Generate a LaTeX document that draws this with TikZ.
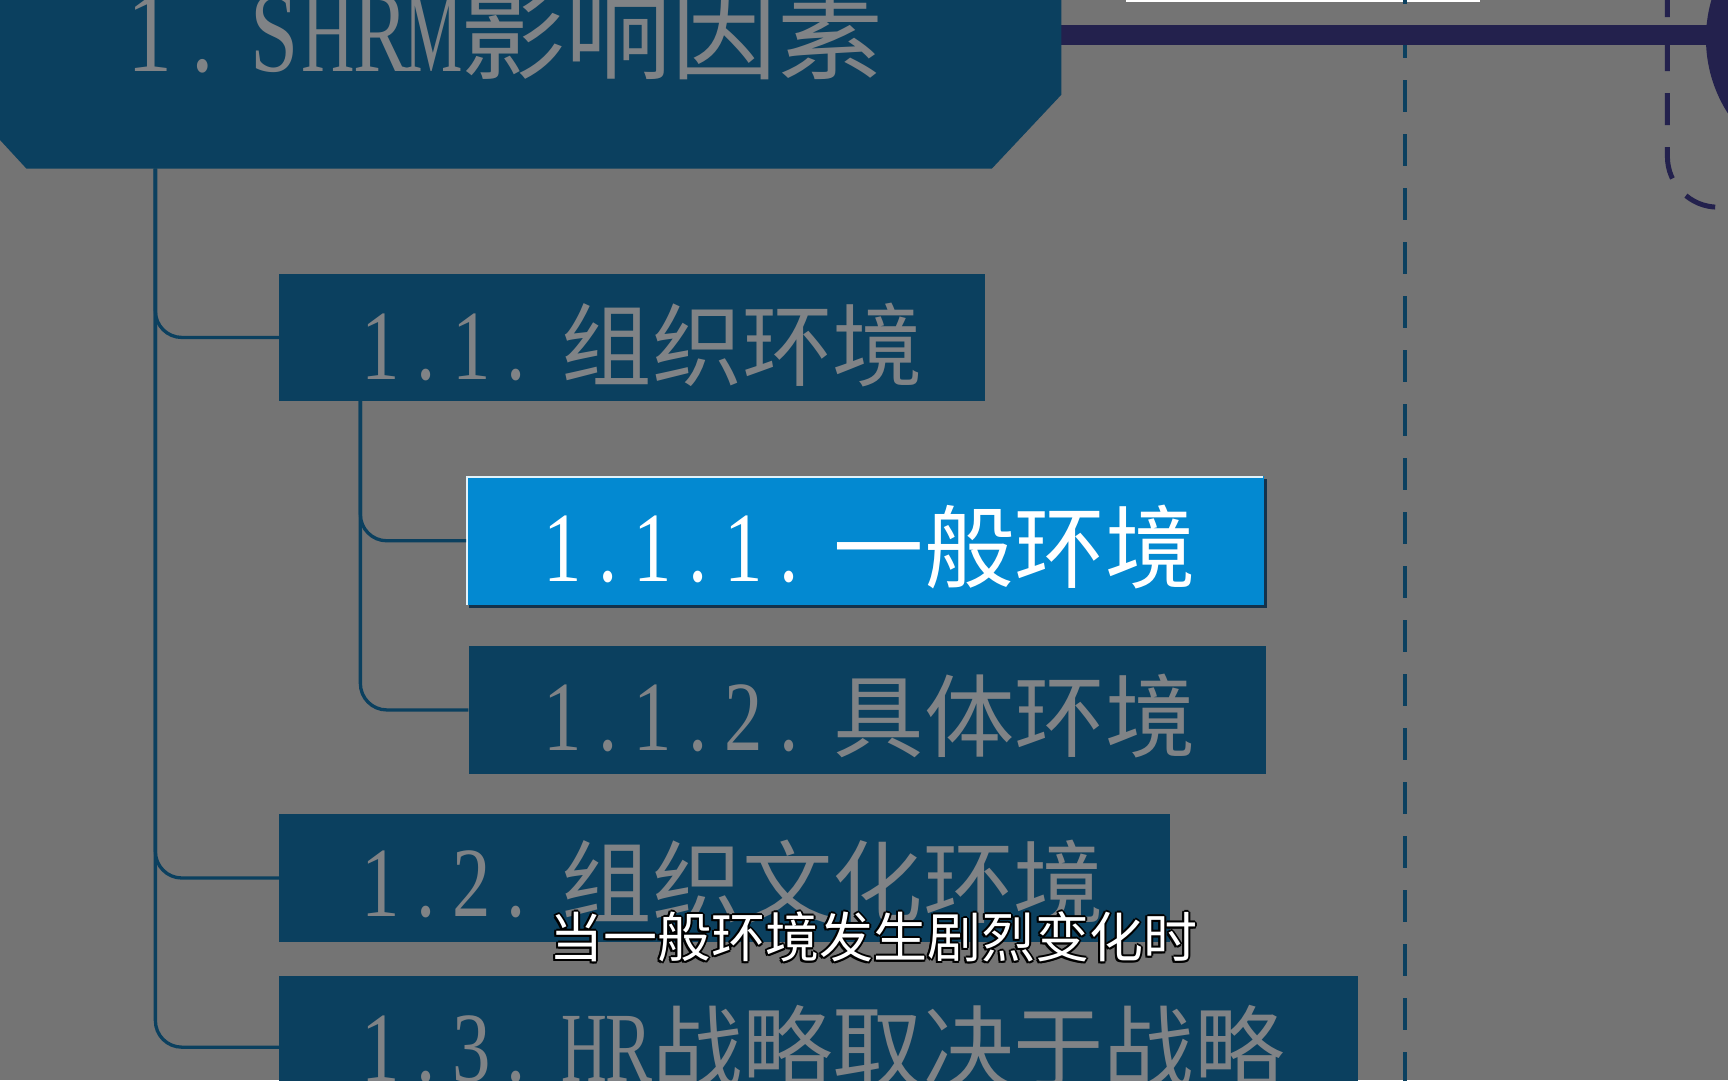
\documentclass[tikz,border=0pt]{standalone}
\usepackage{fontspec}
\setmainfont{Liberation Serif}
\newfontfamily\cjk{Noto Sans CJK SC}
\definecolor{bgc}{RGB}{116,116,116}
\definecolor{boxc}{RGB}{11,64,95}
\definecolor{hic}{RGB}{3,137,209}
\definecolor{hiedge}{RGB}{225,242,250}
\definecolor{hishadow}{RGB}{20,50,75}
\definecolor{txtg}{RGB}{128,131,134}
\definecolor{navyc}{RGB}{35,33,77}
\newcommand\hw[1]{\makebox[0.5em][c]{\scalebox{0.85}[1.1]{#1}}}
\newcommand\hn[2]{\makebox[0.5em][c]{\scalebox{#1}[1.1]{#2}}}
\newcommand\hs{\hspace{0.25em}}
\begin{document}
\begin{tikzpicture}[x=1pt,y=-1pt,
  boxst/.style={fill=boxc, draw=none, inner sep=0pt, anchor=north west},
  histst/.style={fill=hic, draw=none, inner sep=0pt, anchor=north west},
  lbl/.style={anchor=base west, inner sep=0pt, text=txtg, font=\fontsize{82pt}{90pt}\selectfont},
  tree/.style={draw=boxc, line width=3pt, rounded corners=24pt},
  dashblue/.style={draw=boxc, line width=4pt, dash pattern=on 29pt off 20pt},
  dashnavy/.style={draw=navyc, line width=4.5pt, dash pattern=on 29pt off 20pt, rounded corners=46pt},
  subst/.style={anchor=base west, inner sep=0pt, font=\cjk\fontsize{49pt}{52pt}\selectfont}]
\clip (0,0) rectangle (1568,980);
\fill[bgc] (0,0) rectangle (1568,980);
% top right decorations
\fill[white] (1022,-5) rectangle (1343,2);
\draw[dashblue] (1275,-25.4) -- (1275,995);
\draw[dashnavy] (1513,-13.4) -- (1513,188) -- (1640,188);
\fill[navyc] (1673.6,35) circle (125.6pt);
\fill[navyc] (960,23) rectangle (1570,41);
% title block
\fill[boxc] (-5,-5) -- (963,-5) -- (963,86) -- (900,153) -- (24,153) -- (0,127) -- (-5,127) -- cycle;
\node[lbl, font=\fontsize{96pt}{100pt}\selectfont] (title) at (112,65)
  {\hw{1}\hw{.}\hspace{0.18em}\hn{0.82}{S}\hn{0.7}{H}\hn{0.78}{R}\hn{0.62}{M}{\cjk 影响因素}};
\coordinate (t) at (141,153);
% boxes
\node[boxst, minimum width=641pt, minimum height=116pt] (b11) at (253,248) {};
\fill[hishadow] (426,435) rectangle (1150,552);
\node[histst, minimum width=724pt, minimum height=117pt] (b111) at (423,432) {};
\draw[hiedge, line width=2pt] (424,549) -- (424,433) -- (1146,433);
\node[boxst, minimum width=724pt, minimum height=116pt] (b112) at (425,586) {};
\node[boxst, minimum width=808pt, minimum height=117pt] (b12) at (253,738) {};
\node[boxst, minimum width=979pt, minimum height=130pt] (b13) at (253,885) {};
\coordinate (s) at (327,364);
% connectors
\draw[tree] (t) |- (b11.west);
\draw[tree] (t) |- (b12.west);
\draw[tree] (t) |- (b13.west);
\draw[tree] (s) |- (b111.west);
\draw[tree] (s) |- (b112.west);
% labels
\node[lbl] (l11) at (325,344) {\hw{1}\hw{.}\hw{1}\hw{.}\hs{\cjk 组织环境}};
\node[lbl, text=white] (l111) at (490,528) {\hw{1}\hw{.}\hw{1}\hw{.}\hw{1}\hw{.}\hs{\cjk 一般环境}};
\node[lbl] (l112) at (490,681) {\hw{1}\hw{.}\hw{1}\hw{.}\hw{2}\hw{.}\hs{\cjk 具体环境}};
\node[lbl] (l12) at (325,832) {\hw{1}\hw{.}\hw{2}\hw{.}\hs{\cjk 组织文化环境}};
\node[lbl] (l13) at (325,981) {\hw{1}\hw{.}\hw{3}\hw{.}\hs\hn{0.7}{H}\hn{0.78}{R}{\cjk 战略取决于战略}};
% subtitle with outline
\foreach \dx/\dy in {-1.5/-1.5,1.5/-1.5,-1.5/1.5,1.5/1.5,0/1.8,1.8/0,-1.8/0,0/-1.8}{
  \node[subst, text=black] at (498+\dx,869+\dy) {当一般环境发生剧烈变化时};
}
\node[subst, text=white] (sub) at (498,869) {当一般环境发生剧烈变化时};
\end{tikzpicture}
\end{document}
